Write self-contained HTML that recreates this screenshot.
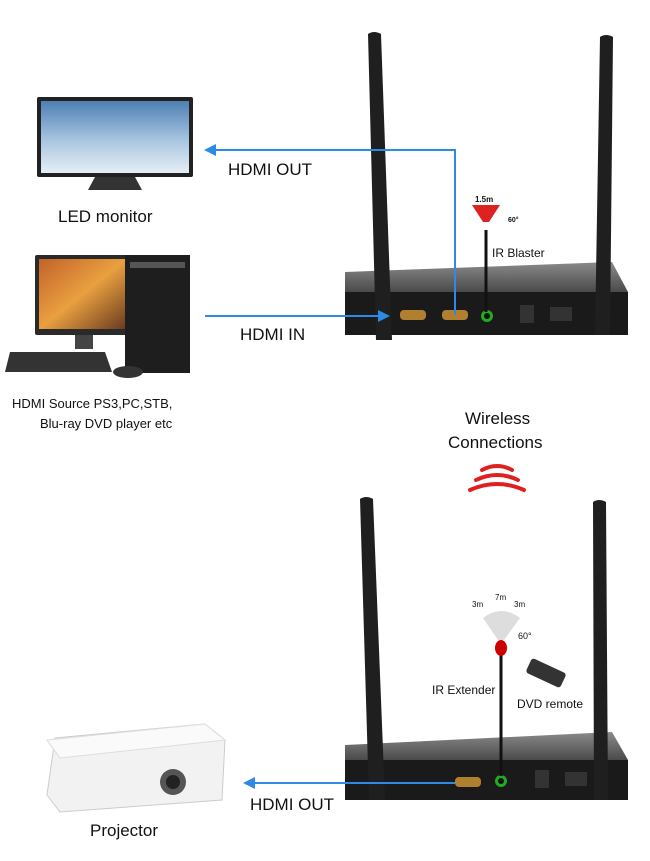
<!DOCTYPE html>
<html><head><style>
body{margin:0;background:#fff;}
svg{display:block;font-family:"Liberation Sans",Arial,sans-serif;}
</style></head><body>
<svg width="650" height="861" viewBox="0 0 650 861">
<defs>
<linearGradient id="scr" x1="0" y1="0" x2="0" y2="1"><stop offset="0" stop-color="#4d7fb3"/><stop offset=".55" stop-color="#a9c6e0"/><stop offset="1" stop-color="#e6eef5"/></linearGradient>
<linearGradient id="pcs" x1="0" y1="0" x2="1" y2="1"><stop offset="0" stop-color="#c2622a"/><stop offset=".5" stop-color="#e9a040"/><stop offset="1" stop-color="#6a3a20"/></linearGradient>
<linearGradient id="top" x1="0" y1="0" x2="0" y2="1"><stop offset="0" stop-color="#8a8a8a"/><stop offset="1" stop-color="#4a4a4a"/></linearGradient>
<marker id="ar" markerWidth="12" markerHeight="12" refX="10" refY="6" orient="auto" markerUnits="userSpaceOnUse"><path d="M0,0 L12,6 L0,12 z" fill="#2d8ae6"/></marker>
</defs>

<rect x="37" y="97" width="156" height="80" rx="2" fill="#222"/>
<rect x="41" y="101" width="148" height="72" fill="url(#scr)"/>
<path d="M95,177 L135,177 L142,190 L88,190 z" fill="#333"/>
<text x="58" y="222" font-size="17" fill="#111">LED monitor</text>

<rect x="35" y="255" width="95" height="80" rx="2" fill="#2a2a2a"/>
<rect x="39" y="259" width="87" height="70" fill="url(#pcs)"/>
<rect x="75" y="335" width="18" height="14" fill="#444"/>
<rect x="125" y="255" width="65" height="118" fill="#1e1e1e"/>
<rect x="130" y="262" width="55" height="6" fill="#555"/>
<path d="M10,352 L105,352 L112,372 L5,372 z" fill="#333"/>
<ellipse cx="128" cy="372" rx="15" ry="6" fill="#333"/>
<text x="12" y="408" font-size="13" fill="#111">HDMI Source PS3,PC,STB,</text>
<text x="40" y="428" font-size="13" fill="#111">Blu-ray DVD player etc</text>

<path d="M55,738 L205,724 L225,740 L222,800 L60,812 L47,795 z" fill="#f2f2f2" stroke="#ccc"/>
<path d="M47,740 L205,724 L225,740 L60,758 z" fill="#fafafa" stroke="#ddd"/>
<circle cx="173" cy="782" r="13" fill="#555"/><circle cx="173" cy="782" r="7" fill="#222"/>
<text x="90" y="836" font-size="17" fill="#111">Projector</text>

<path d="M345,272 L612,262 L628,292 L345,292 z" fill="url(#top)"/>
<rect x="345" y="292" width="283" height="43" fill="#1a1a1a"/>
<path d="M368,34 Q374,30 381,34 L392,340 L376,340 z" fill="#1f1f1f"/>
<path d="M600,37 Q606,33 613,37 L610,335 L595,335 z" fill="#1f1f1f"/>
<rect x="400" y="310" width="26" height="10" rx="4" fill="#b08030"/>
<rect x="442" y="310" width="26" height="10" rx="4" fill="#b08030"/>
<circle cx="487" cy="316" r="6" fill="#2a2" /><circle cx="487" cy="316" r="3" fill="#111"/>
<rect x="520" y="305" width="14" height="18" fill="#333"/>
<rect x="550" y="307" width="22" height="14" fill="#333"/>
<line x1="486" y1="230" x2="486" y2="312" stroke="#111" stroke-width="3"/>
<path d="M472,205 L500,205 L489,222 L483,222 z" fill="#d22"/>
<text x="475" y="202" font-size="8" font-weight="bold" fill="#111">1.5m</text>
<text x="508" y="222" font-size="7" font-weight="bold" fill="#111">60°</text>
<text x="492" y="257" font-size="12" fill="#111">IR Blaster</text>

<polyline points="455,315 455,150 206,150" fill="none" stroke="#2d8ae6" stroke-width="2" marker-end="url(#ar)"/>
<line x1="205" y1="316" x2="388" y2="316" stroke="#2d8ae6" stroke-width="2" marker-end="url(#ar)"/>
<text x="228" y="175" font-size="17" fill="#111">HDMI OUT</text>
<text x="240" y="340" font-size="17" fill="#111">HDMI IN</text>

<text x="465" y="424" font-size="17" fill="#111">Wireless</text>
<text x="448" y="448" font-size="17" fill="#111">Connections</text>
<g fill="none" stroke="#e02020" stroke-width="4" stroke-linecap="round">
<path d="M482,470 Q497,462 512,470"/><path d="M476,480 Q497,470 518,480"/><path d="M470,490 Q497,478 524,490"/>
</g>

<path d="M345,745 L612,732 L628,760 L345,760 z" fill="url(#top)"/>
<rect x="345" y="760" width="283" height="40" fill="#1a1a1a"/>
<path d="M360,499 Q366,495 373,499 L385,800 L369,800 z" fill="#1f1f1f"/>
<path d="M593,502 Q599,498 606,502 L608,800 L594,800 z" fill="#1f1f1f"/>
<rect x="455" y="777" width="26" height="10" rx="4" fill="#b08030"/>
<circle cx="501" cy="781" r="6" fill="#2a2"/><circle cx="501" cy="781" r="3" fill="#111"/>
<rect x="535" y="770" width="14" height="18" fill="#333"/>
<rect x="565" y="772" width="22" height="14" fill="#333"/>
<line x1="501" y1="650" x2="501" y2="776" stroke="#111" stroke-width="3"/>
<path d="M483,618 Q501,604 520,618 L504,640 L498,640 z" fill="#ddd"/>
<ellipse cx="501" cy="648" rx="6" ry="8" fill="#c00"/>
<text x="472" y="607" font-size="8" fill="#111">3m</text><text x="495" y="600" font-size="8" fill="#111">7m</text><text x="514" y="607" font-size="8" fill="#111">3m</text>
<text x="518" y="639" font-size="9" fill="#111">60°</text>
<rect x="527" y="665" width="38" height="16" rx="3" transform="rotate(25 546 673)" fill="#333"/>
<text x="432" y="694" font-size="12" fill="#111">IR Extender</text>
<text x="517" y="708" font-size="12" fill="#111">DVD remote</text>

<line x1="455" y1="783" x2="245" y2="783" stroke="#2d8ae6" stroke-width="2" marker-end="url(#ar)"/>
<text x="250" y="810" font-size="17" fill="#111">HDMI OUT</text>
</svg>
</body></html>
